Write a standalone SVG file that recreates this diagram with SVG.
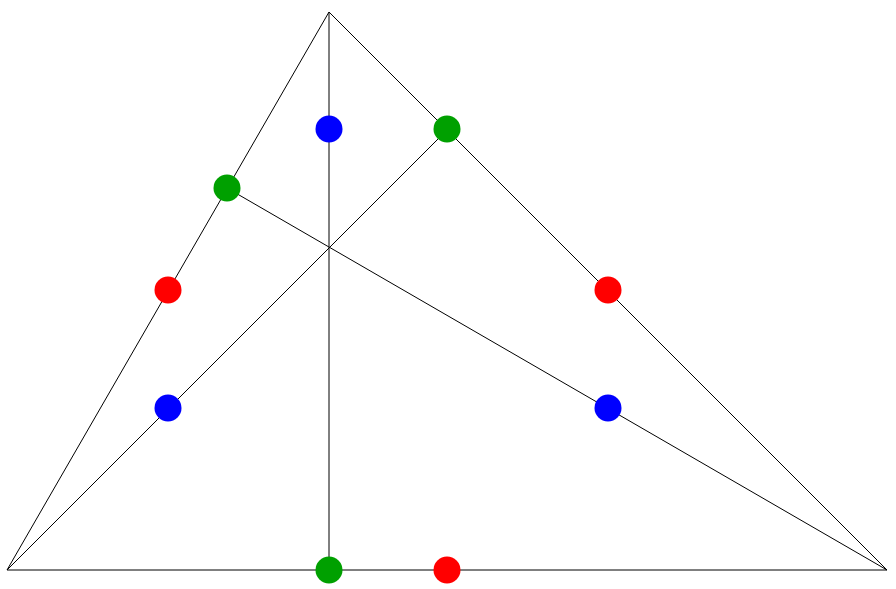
<svg xmlns="http://www.w3.org/2000/svg" width="896" height="589" viewBox="0 0 896 589">
<style>
.ln{stroke:#000;stroke-width:1;fill:none}
.r{fill:#ff0000}
.g{fill:#00a000}
.b{fill:#0000ff}
</style>
<rect width="896" height="589" fill="#fff"/>
<g id="connectors">
<polygon class="ln" points="7,570 887,570 329,12"/>
<line class="ln" x1="329" y1="12" x2="329" y2="570"/>
<line class="ln" x1="7" y1="570" x2="447" y2="130"/>
<line class="ln" x1="887" y1="570" x2="227" y2="188"/>
</g>
<g id="mid-AB"><circle class="r" cx="447" cy="570" r="13.5"/></g>
<g id="mid-AC"><circle class="r" cx="168" cy="290" r="13.5"/></g>
<g id="mid-BC"><circle class="r" cx="608" cy="290" r="13.5"/></g>
<g id="foot-C"><circle class="g" cx="329" cy="570" r="13.5"/></g>
<g id="foot-A"><circle class="g" cx="447" cy="129" r="13.5"/></g>
<g id="foot-B"><circle class="g" cx="227" cy="188" r="13.5"/></g>
<g id="mid-HC"><circle class="b" cx="329" cy="129" r="13.5"/></g>
<g id="mid-HA"><circle class="b" cx="168" cy="408" r="13.5"/></g>
<g id="mid-HB"><circle class="b" cx="608" cy="408" r="13.5"/></g>
</svg>
